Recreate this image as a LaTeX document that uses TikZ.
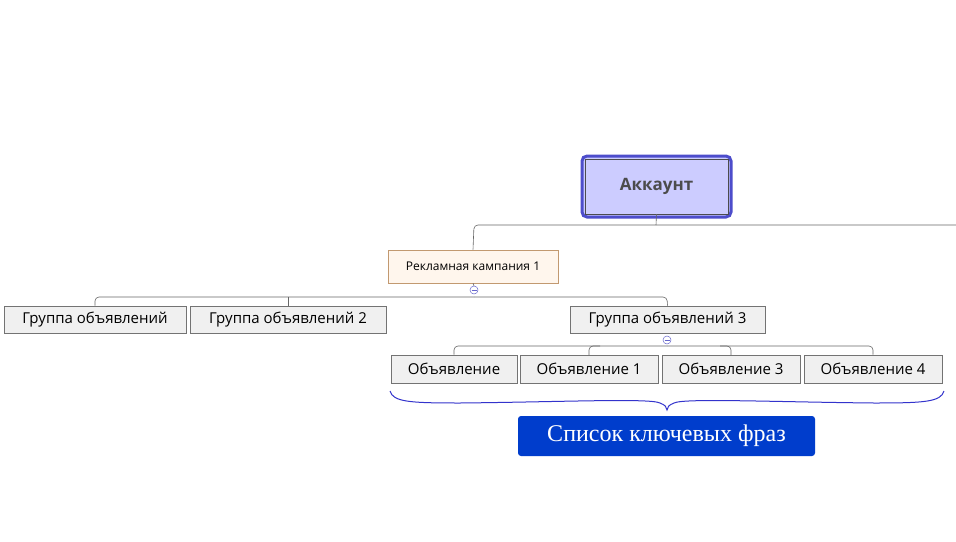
\documentclass[tikz,border=0pt]{standalone}
\usepackage{fontspec}
\setmainfont{Open Sans}
\newfontfamily\serifname{Liberation Serif}
\begin{document}
\begin{tikzpicture}[x=1pt,y=-1pt,
  box/.style={draw=gray!90!black,fill=gray!12,line width=0.6pt,inner sep=0,font=\fontsize{15}{15}\selectfont},
  ln/.style={draw=gray!80!black,line width=0.6pt,rounded corners=4pt},
  tog/.style={circle,draw=blue!50!gray!80,fill=white,inner sep=0,minimum size=8pt,line width=0.5pt}]
\useasboundingbox[fill=white] (0,0) rectangle (956,541);
% root
\draw[draw=blue!55!gray!90,line width=3pt,rounded corners=5pt,fill=blue!20!white] (582,156) rectangle (731,217);
\node[draw=black!70,line width=0.5pt,fill=blue!20!white,minimum width=143pt,minimum height=55pt,inner sep=0,font=\fontsize{17}{17}\selectfont\bfseries,text=black!70] (acc) at (656.5,186.5) {Аккаунт};
\node[draw=orange!40!gray!80,fill=orange!7,line width=0.6pt,minimum width=170pt,minimum height=33pt,inner sep=0,font=\fontsize{12}{12}\selectfont] (rk) at (473,266.5) {Рекламная кампания 1};
\coordinate (edge) at (956,225);
\draw[ln] (acc.south) -- (656,225);
\draw[ln] (edge) -- (474,225) -- (rk.north);
% groups
\node[box,minimum width=182pt,minimum height=27pt] (g1) at (95,319.5) {Группа объявлений};
\node[box,minimum width=196pt,minimum height=27pt] (g2) at (288,319.5) {Группа объявлений 2};
\node[box,minimum width=195pt,minimum height=27pt] (g3) at (667.5,319.5) {Группа объявлений 3};
\coordinate (h1) at (474,297);
\draw[ln] (h1) -- (95,297) -- (g1.north);
\draw[ln] (h1) -- (667,297) -- (g3.north);
\draw[ln] (288,297) -- (g2.north);
\node[tog] (t1) at (474,290) {};
\draw[blue!50!gray!80,line width=0.5pt] (471.5,290) -- (476.5,290);
\draw[ln] (rk.south) -- (t1.north);
% ads
\node[box,minimum width=126pt,minimum height=28pt] (a1) at (454,369) {Объявление};
\node[box,minimum width=138pt,minimum height=28pt] (a2) at (589,369) {Объявление 1};
\node[box,minimum width=138pt,minimum height=28pt] (a3) at (731,369) {Объявление 3};
\node[box,minimum width=138pt,minimum height=28pt] (a4) at (873,369) {Объявление 4};
\coordinate (h2) at (667,346);
\draw[ln] (h2) -- (454,346) -- (a1.north);
\draw[ln] (h2) -- (873,346) -- (a4.north);
\draw[ln] (589,355) -- (589,346) -- (600,346);
\draw[ln] (731,355) -- (731,346) -- (720,346);
\node[tog] (t2) at (667,340) {};
\draw[blue!50!gray!80,line width=0.5pt] (664.5,340) -- (669.5,340);
% brace
\draw[blue!60!gray,line width=1pt] (390,391) .. controls (393,402) and (410,403) .. (460,403) .. controls (560,402) and (650,398) .. (660,403) .. controls (665,405) and (667,407) .. (667,410)
  .. controls (667,407) and (669,405) .. (674,403) .. controls (684,398) and (774,402) .. (874,403) .. controls (924,403) and (941,402) .. (944,391);
\node[fill=blue!70!cyan!80!black,rounded corners=3pt,minimum width=297pt,minimum height=40pt,inner sep=0,text=white,font=\serifname\fontsize{24}{24}\selectfont] (lbl) at (666.5,436) {Список ключевых фраз};
\end{tikzpicture}
\end{document}
